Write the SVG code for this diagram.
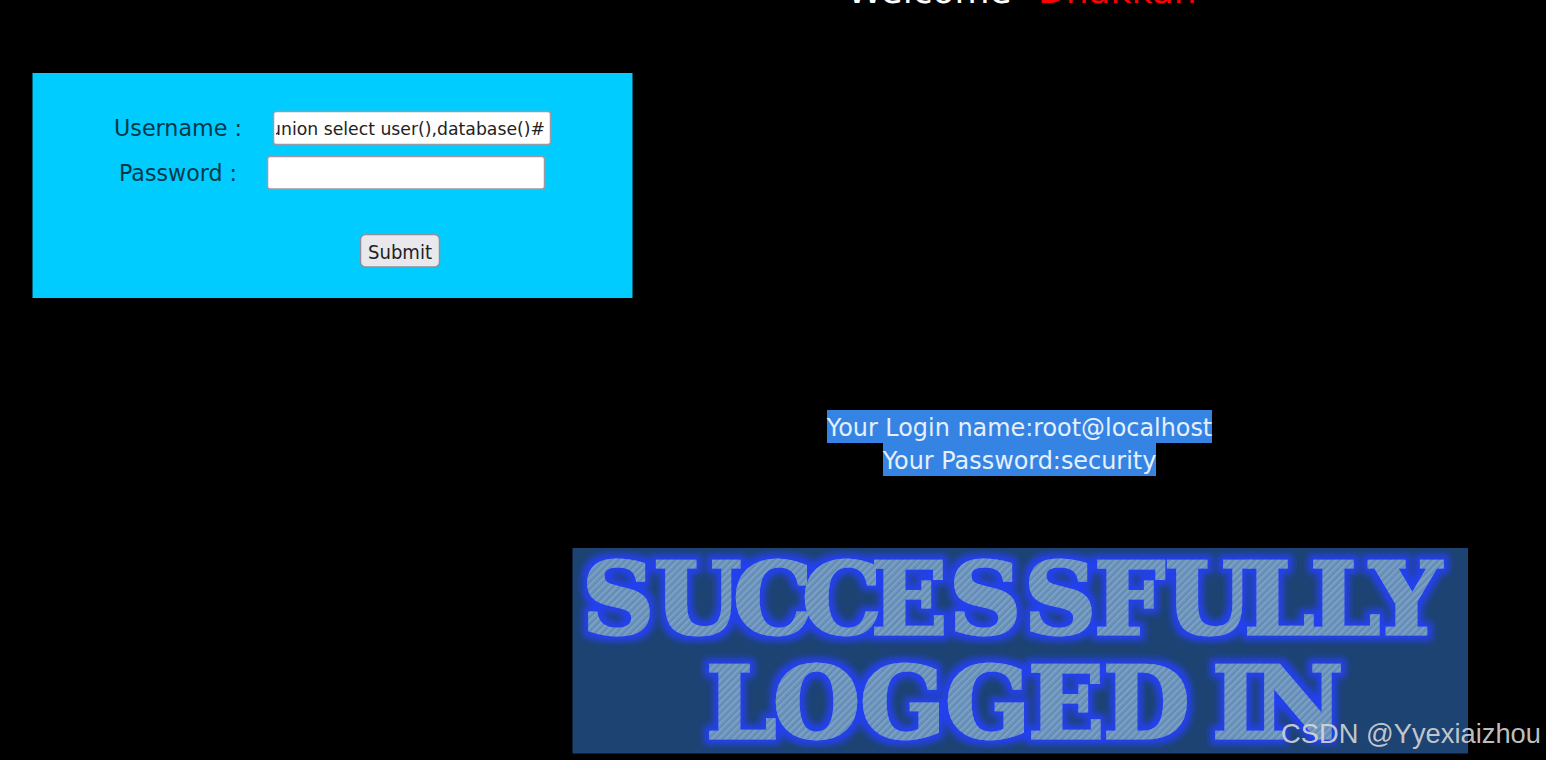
<svg xmlns="http://www.w3.org/2000/svg" width="1546" height="760" viewBox="0 0 1546 760">
<style>
.ui{font-family:"DejaVu Sans","Noto Sans",sans-serif}
.lbl{font-size:23.5px;fill:#003a4a}
.field{fill:#fff;stroke:#9a9aa5;stroke-width:1.5}
.sel{font-size:23.9px;fill:#e6f0fc}
.ban{font-family:"DejaVu Serif","Liberation Serif",serif;font-weight:700;font-size:100px;fill:url(#hatch);stroke:url(#hatch);stroke-width:3;stroke-linejoin:miter;filter:url(#glow)}
</style>
<defs>
<pattern id="hatch" width="5" height="5" patternUnits="userSpaceOnUse" patternTransform="rotate(-45)">
<rect width="5" height="5" fill="#6d95bd"/>
<rect width="5" height="1" fill="#82a6c8"/>
<rect y="3" width="5" height="1" fill="#6189b0"/>
</pattern>
<filter id="glow" x="-5%" y="-25%" width="110%" height="150%">
<feMorphology in="SourceAlpha" operator="dilate" radius="5" result="d"/>
<feGaussianBlur in="d" stdDeviation="3" result="b"/>
<feFlood flood-color="#2440ee"/>
<feComposite in2="b" operator="in" result="g"/>
<feMerge><feMergeNode in="g"/><feMergeNode in="SourceGraphic"/></feMerge>
</filter>
</defs>
<rect width="1546" height="760" fill="#000"/>
<g id="welcome" class="ui" font-size="36">
<text x="847" y="3" fill="#fff">Welcome</text>
<text x="1038" y="3" fill="#f00">Dhakkan</text>
</g>
<g id="login-form">
<rect x="32.500" y="73" width="600" height="225" fill="#00ccff"/>
<text class="ui lbl" x="114" y="136" textLength="128" lengthAdjust="spacingAndGlyphs">Username :</text>
<text class="ui lbl" x="119" y="181" textLength="118" lengthAdjust="spacingAndGlyphs">Password :</text>
<rect class="field" x="273.500" y="111.500" width="277" height="33" rx="2.500"/>
<svg x="276" y="112" width="270" height="32" viewBox="276 112 270 32">
<text class="ui" x="270" y="135" font-size="18.500" fill="#222" textLength="275" lengthAdjust="spacingAndGlyphs">union select user(),database()#</text>
</svg>
<rect class="field" x="267.500" y="156.500" width="277" height="32.500" rx="2.500"/>
<rect x="360.500" y="234.500" width="79" height="32.500" rx="5" fill="#e9e9ed" stroke="#8f8f9d" stroke-width="1.500"/>
<text class="ui" x="368" y="258.500" font-size="20" fill="#222" textLength="64" lengthAdjust="spacingAndGlyphs">Submit</text>
</g>
<g id="login-result" class="ui">
<rect x="827" y="410" width="385" height="33" fill="#3584e4"/>
<rect x="883" y="443" width="273" height="33" fill="#3584e4"/>
<text class="sel" x="1019.500" y="436" text-anchor="middle">Your Login name:root@localhost</text>
<text class="sel" x="1019.500" y="469" text-anchor="middle">Your Password:security</text>
</g>
<g id="success-banner">
<rect x="572.500" y="548" width="895.500" height="205.500" fill="#1d4373"/>
<text class="ban" x="582 654 733 802 871 949 1024 1094 1165 1244 1310 1370" y="634">SUCCESSFULLY</text>
<text class="ban" x="706 773 860 945 1028 1103 1190 1212 1252" y="738">LOGGED IN</text>
</g>
<g id="watermark">
<text x="1281" y="743" font-family="'Liberation Sans',Arial,sans-serif" font-size="27.500" fill="#d8d8d8" fill-opacity=".9" textLength="260" lengthAdjust="spacingAndGlyphs">CSDN @Yyexiaizhou</text>
</g>
</svg>
